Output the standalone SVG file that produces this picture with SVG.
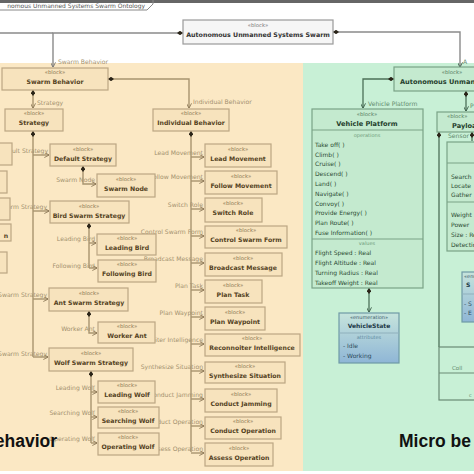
<svg xmlns="http://www.w3.org/2000/svg" width="474" height="474" viewBox="0 0 474 474">
<style>
text{font-family:"DejaVu Sans",Verdana,sans-serif}
.st{font-size:5.3px;fill:#8a7650;text-anchor:middle}
.nm{font-size:6.2px;font-weight:bold;fill:#54421f;text-anchor:middle}
.rl{font-size:6.1px;fill:#a3916f}
.rle{font-size:6.1px;fill:#a3916f;text-anchor:end}
.blk{fill:#f7e3bd;stroke:#bba683;stroke-width:1.2}
.cn{fill:none;stroke:#a8946f;stroke-width:1.4}
.gblk{fill:#c4eacf;stroke:#7aa286;stroke-width:1.2}
.gst{font-size:5.3px;fill:#557a60;text-anchor:middle}
.gnm{font-size:6.6px;font-weight:bold;fill:#24402c;text-anchor:middle}
.gtx{font-size:6px;fill:#2c4a34}
.gsm{font-size:5px;fill:#6f9a7a;text-anchor:middle}
.gcn{fill:none;stroke:#4c7058;stroke-width:1.3}
.grl{font-size:6.1px;fill:#5f8a6c}
.big{font-family:"Liberation Sans",Arial,sans-serif;font-size:17.5px;font-weight:bold;fill:#111}
</style>
<defs>
<marker id="dia" viewBox="0 0 8 6" refX="0" refY="3" markerWidth="6" markerHeight="4.5" markerUnits="userSpaceOnUse" orient="auto"><path d="M0,3 L4,0 L8,3 L4,6 z" fill="#2a2418"/></marker>
<marker id="arr" viewBox="0 0 8 8" refX="7.5" refY="4" markerWidth="5" markerHeight="5" markerUnits="userSpaceOnUse" orient="auto"><path d="M0,0 L8,4 L0,8" fill="none" stroke="#8a7656" stroke-width="1.4"/></marker>
<marker id="garr" viewBox="0 0 8 8" refX="7.5" refY="4" markerWidth="5" markerHeight="5" markerUnits="userSpaceOnUse" orient="auto"><path d="M0,0 L8,4 L0,8" fill="none" stroke="#3c5c48" stroke-width="1.4"/></marker>
<marker id="tarr" viewBox="0 0 8 8" refX="7.5" refY="4" markerWidth="5" markerHeight="5" markerUnits="userSpaceOnUse" orient="auto"><path d="M0,0 L8,4 L0,8" fill="none" stroke="#777" stroke-width="1.4"/></marker>
<linearGradient id="enumg" x1="0" y1="0" x2="0" y2="1"><stop offset="0" stop-color="#c6e4dc"/><stop offset="1" stop-color="#8fb6d6"/></linearGradient>
</defs>

<rect x="0" y="0" width="474" height="474" fill="#ffffff"/>
<rect x="0" y="63" width="303" height="408" fill="#fbe8c4"/>
<rect x="303" y="63" width="171" height="408" fill="#c8f0d6"/>

<!-- frame -->
<rect x="0" y="0" width="474" height="3" fill="#666"/>
<path d="M0,10 H147 L153,4 V0" fill="none" stroke="#888" stroke-width="1"/>
<text x="145" y="8" style="font-size:6px;fill:#555;text-anchor:end">nomous Unmanned Systems Swarm Ontology</text>

<!-- connectors -->
<g id="connectors">
<path d="M53,33 H0" fill="none" stroke="#8a8a8a" stroke-width="1.4"/>
<path d="M183,33 H53 V67" fill="none" stroke="#8a8a8a" stroke-width="1.4" marker-start="url(#dia)" marker-end="url(#tarr)"/>
<path d="M333,32 H460 V67" fill="none" stroke="#8a8a8a" stroke-width="1.4" marker-start="url(#dia)" marker-end="url(#garr)"/>
<path class="cn" d="M108,79 H189 V108" marker-start="url(#dia)" marker-end="url(#arr)"/>
<path class="cn" d="M33,90 V108" marker-start="url(#dia)" marker-end="url(#arr)"/>
<path class="cn" d="M33,131 V357" marker-start="url(#dia)"/>
<path class="cn" d="M33,155 H49" marker-end="url(#arr)"/>
<path class="cn" d="M33,211 H49" marker-end="url(#arr)"/>
<path class="cn" d="M33,299 H48" marker-end="url(#arr)"/>
<path class="cn" d="M33,357 H48" marker-end="url(#arr)"/>
<path class="cn" d="M83,166 V184 H96" marker-start="url(#dia)" marker-end="url(#arr)"/>
<path class="cn" d="M89,223 V268" marker-start="url(#dia)"/>
<path class="cn" d="M89,243 H96" marker-end="url(#arr)"/>
<path class="cn" d="M89,268 H97" marker-end="url(#arr)"/>
<path class="cn" d="M89,311 V333 H97" marker-start="url(#dia)" marker-end="url(#arr)"/>
<path class="cn" d="M91,371 V443" marker-start="url(#dia)"/>
<path class="cn" d="M91,392 H97" marker-end="url(#arr)"/>
<path class="cn" d="M91,417 H97" marker-end="url(#arr)"/>
<path class="cn" d="M91,443 H97" marker-end="url(#arr)"/>
<path class="cn" d="M191,131 V452" marker-start="url(#dia)"/>
<path class="cn" d="M191,157 H204" marker-end="url(#arr)"/>
<path class="cn" d="M191,181 H204" marker-end="url(#arr)"/>
<path class="cn" d="M191,209 H204" marker-end="url(#arr)"/>
<path class="cn" d="M191,236 H204" marker-end="url(#arr)"/>
<path class="cn" d="M191,263 H204" marker-end="url(#arr)"/>
<path class="cn" d="M191,290 H204" marker-end="url(#arr)"/>
<path class="cn" d="M191,317 H204" marker-end="url(#arr)"/>
<path class="cn" d="M191,344 H204" marker-end="url(#arr)"/>
<path class="cn" d="M191,371 H204" marker-end="url(#arr)"/>
<path class="cn" d="M191,399 H204" marker-end="url(#arr)"/>
<path class="cn" d="M191,426 H204" marker-end="url(#arr)"/>
<path class="cn" d="M191,453 H204" marker-end="url(#arr)"/>
<path class="gcn" d="M394,79 H363 V108" marker-start="url(#dia)" marker-end="url(#garr)"/>
<path class="gcn" d="M466,91 V111" marker-start="url(#dia)" marker-end="url(#garr)"/>
<path class="gcn" d="M369,288 V312" marker-start="url(#dia)" marker-end="url(#garr)"/>
<path class="gcn" d="M439,132 V347" marker-start="url(#dia)"/>
<path class="gcn" d="M472,132 V141" marker-start="url(#dia)"/>
<text class="rl" x="58" y="64">Swarm Behavior</text>
<text class="rl" x="193" y="104">Individual Behavior</text>
<text class="rl" x="37" y="105">Strategy</text>
<text class="rle" x="48" y="153">Default Strategy</text>
<text class="rle" x="95" y="182">Swarm Node</text>
<text class="rle" x="47" y="209">Bird Swarm Strategy</text>
<text class="rle" x="95" y="241">Leading Bird</text>
<text class="rle" x="95" y="268">Following Bird</text>
<text class="rle" x="47" y="297">Ant Swarm Strategy</text>
<text class="rle" x="95" y="331">Worker Ant</text>
<text class="rle" x="47" y="356">Wolf Swarm Strategy</text>
<text class="rle" x="95" y="390">Leading Wolf</text>
<text class="rle" x="95" y="415">Searching Wolf</text>
<text class="rle" x="95" y="441">Operating Wolf</text>
<text class="rle" x="203" y="155">Lead Movement</text>
<text class="rle" x="203" y="179">Follow Movement</text>
<text class="rle" x="203" y="207">Switch Role</text>
<text class="rle" x="203" y="234">Control Swarm Form</text>
<text class="rle" x="203" y="261">Broadcast Message</text>
<text class="rle" x="203" y="288">Plan Task</text>
<text class="rle" x="203" y="315">Plan Waypoint</text>
<text class="rle" x="203" y="342">Reconnoiter Intelligence</text>
<text class="rle" x="203" y="369">Synthesize Situation</text>
<text class="rle" x="203" y="397">Conduct Jamming</text>
<text class="rle" x="203" y="424">Conduct Operation</text>
<text class="rle" x="203" y="451">Assess Operation</text>
<text class="grl" x="368" y="106">Vehicle Platform</text>
<text class="grl" x="463" y="64">A</text>
<text class="grl" x="470" y="108">P</text>
<text class="grl" x="448" y="138">Sensor</text>
</g>

<!-- top block -->
<g id="autonomous-unmanned-systems-swarm">
<rect x="183" y="20" width="150" height="24" fill="#f6f6f6" stroke="#9a9a9a" stroke-width="1.2"/>
<text x="258" y="27" style="font-size:5.3px;fill:#777;text-anchor:middle">«block»</text>
<text x="258" y="37" style="font-size:6.3px;font-weight:bold;fill:#333;text-anchor:middle">Autonomous Unmanned Systems Swarm</text>
</g>

<!-- left edge partial blocks -->
<g id="left-partial-blocks">
<rect class="blk" x="-30" y="143" width="42" height="22"/>
<rect class="blk" x="-30" y="171" width="37" height="22"/>
<rect class="blk" x="-30" y="198" width="40" height="22"/>
<rect class="blk" x="-30" y="224" width="41" height="17"/>
<text class="nm" x="6" y="238">n</text>
<rect class="blk" x="-30" y="252" width="37" height="21"/>
</g>

<g id="swarm-behavior"><rect class="blk" x="2" y="68" width="106" height="22"/><text class="st" x="55" y="74">«block»</text><text class="nm" x="55" y="84">Swarm Behavior</text></g>
<g id="individual-behavior"><rect class="blk" x="153" y="109" width="76" height="22"/><text class="st" x="191" y="115">«block»</text><text class="nm" x="191" y="125">Individual Behavior</text></g>
<g id="strategy"><rect class="blk" x="5" y="109" width="58" height="22"/><text class="st" x="34" y="115">«block»</text><text class="nm" x="34" y="125">Strategy</text></g>
<g id="default-strategy"><rect class="blk" x="50" y="144" width="66" height="22"/><text class="st" x="83" y="151">«block»</text><text class="nm" x="83" y="161">Default Strategy</text></g>
<g id="swarm-node"><rect class="blk" x="97" y="174" width="58" height="23"/><text class="st" x="126" y="181">«block»</text><text class="nm" x="126" y="191">Swarm Node</text></g>
<g id="bird-swarm-strategy"><rect class="blk" x="50" y="201" width="79" height="22"/><text class="st" x="89" y="208">«block»</text><text class="nm" x="89" y="218">Bird Swarm Strategy</text></g>
<g id="leading-bird"><rect class="blk" x="97" y="234" width="59" height="21"/><text class="st" x="127" y="240">«block»</text><text class="nm" x="127" y="250">Leading Bird</text></g>
<g id="following-bird"><rect class="blk" x="98" y="260" width="58" height="22"/><text class="st" x="127" y="266">«block»</text><text class="nm" x="127" y="276">Following Bird</text></g>
<g id="ant-swarm-strategy"><rect class="blk" x="49" y="288" width="79" height="23"/><text class="st" x="89" y="295">«block»</text><text class="nm" x="89" y="305">Ant Swarm Strategy</text></g>
<g id="worker-ant"><rect class="blk" x="98" y="322" width="57" height="21"/><text class="st" x="127" y="328">«block»</text><text class="nm" x="127" y="338">Worker Ant</text></g>
<g id="wolf-swarm-strategy"><rect class="blk" x="49" y="348" width="84" height="23"/><text class="st" x="91" y="355">«block»</text><text class="nm" x="91" y="365">Wolf Swarm Strategy</text></g>
<g id="leading-wolf"><rect class="blk" x="98" y="381" width="57" height="22"/><text class="st" x="127" y="387">«block»</text><text class="nm" x="127" y="397">Leading Wolf</text></g>
<g id="searching-wolf"><rect class="blk" x="98" y="407" width="61" height="21"/><text class="st" x="128" y="413">«block»</text><text class="nm" x="128" y="423">Searching Wolf</text></g>
<g id="operating-wolf"><rect class="blk" x="98" y="433" width="61" height="22"/><text class="st" x="128" y="439">«block»</text><text class="nm" x="128" y="449">Operating Wolf</text></g>

<g id="lead-movement"><rect class="blk" x="205" y="144" width="66" height="23"/><text class="st" x="238" y="151">«block»</text><text class="nm" x="238" y="161">Lead Movement</text></g>
<g id="follow-movement"><rect class="blk" x="205" y="171" width="72" height="23"/><text class="st" x="241" y="178">«block»</text><text class="nm" x="241" y="188">Follow Movement</text></g>
<g id="switch-role"><rect class="blk" x="205" y="198" width="57" height="24"/><text class="st" x="233" y="205">«block»</text><text class="nm" x="233" y="215">Switch Role</text></g>
<g id="control-swarm-form"><rect class="blk" x="205" y="226" width="82" height="22"/><text class="st" x="246" y="232">«block»</text><text class="nm" x="246" y="242">Control Swarm Form</text></g>
<g id="broadcast-message"><rect class="blk" x="205" y="253" width="77" height="23"/><text class="st" x="243" y="260">«block»</text><text class="nm" x="243" y="270">Broadcast Message</text></g>
<g id="plan-task"><rect class="blk" x="205" y="280" width="57" height="23"/><text class="st" x="233" y="287">«block»</text><text class="nm" x="233" y="297">Plan Task</text></g>
<g id="plan-waypoint"><rect class="blk" x="205" y="307" width="60" height="23"/><text class="st" x="235" y="314">«block»</text><text class="nm" x="235" y="324">Plan Waypoint</text></g>
<g id="reconnoiter-intelligence"><rect class="blk" x="205" y="334" width="95" height="22"/><text class="st" x="252" y="340">«block»</text><text class="nm" x="252" y="350">Reconnoiter Intelligence</text></g>
<g id="synthesize-situation"><rect class="blk" x="205" y="362" width="80" height="21"/><text class="st" x="245" y="368">«block»</text><text class="nm" x="245" y="378">Synthesize Situation</text></g>
<g id="conduct-jamming"><rect class="blk" x="205" y="389" width="72" height="23"/><text class="st" x="241" y="396">«block»</text><text class="nm" x="241" y="406">Conduct Jamming</text></g>
<g id="conduct-operation"><rect class="blk" x="205" y="417" width="76" height="22"/><text class="st" x="243" y="423">«block»</text><text class="nm" x="243" y="433">Conduct Operation</text></g>
<g id="assess-operation"><rect class="blk" x="205" y="443" width="68" height="23"/><text class="st" x="239" y="450">«block»</text><text class="nm" x="239" y="460">Assess Operation</text></g>

<!-- green side -->
<g id="autonomous-unmanned-systems">
<rect class="gblk" x="394" y="67" width="110" height="24"/>
<text class="gst" x="452" y="74">«block»</text>
<text class="gnm" x="400" y="84" style="text-anchor:start">Autonomous Unmanned</text>
</g>

<g id="vehicle-platform">
<rect class="gblk" x="312" y="109" width="111" height="179"/>
<text class="gst" x="367" y="116">«block»</text>
<text class="gnm" x="367" y="126">Vehicle Platform</text>
<line x1="312" y1="130" x2="423" y2="130" stroke="#7aa286" stroke-width="1"/>
<text class="gsm" x="367" y="137">operations</text>
<text class="gtx" x="315" y="147">Take off( )</text>
<text class="gtx" x="315" y="157">Climb( )</text>
<text class="gtx" x="315" y="166">Cruise( )</text>
<text class="gtx" x="315" y="176">Descend( )</text>
<text class="gtx" x="315" y="186">Land( )</text>
<text class="gtx" x="315" y="196">Navigate( )</text>
<text class="gtx" x="315" y="206">Convoy( )</text>
<text class="gtx" x="315" y="215">Provide Energy( )</text>
<text class="gtx" x="315" y="225">Plan Route( )</text>
<text class="gtx" x="315" y="235">Fuse Information( )</text>
<line x1="312" y1="239" x2="423" y2="239" stroke="#7aa286" stroke-width="1"/>
<text class="gsm" x="367" y="245">values</text>
<text class="gtx" x="315" y="255">Flight Speed : Real</text>
<text class="gtx" x="315" y="265">Flight Altitude : Real</text>
<text class="gtx" x="315" y="275">Turning Radius : Real</text>
<text class="gtx" x="315" y="285">Takeoff Weight : Real</text>
</g>

<g id="vehicle-state">
<rect x="339" y="313" width="60" height="50" fill="url(#enumg)" stroke="#6f9aa6" stroke-width="1.2"/>
<line x1="339" y1="333" x2="399" y2="333" stroke="#8fb0bc" stroke-width="1"/>
<text x="369" y="319" style="font-size:5px;fill:#3c5c6a;text-anchor:middle">«enumeration»</text>
<text x="369" y="328" style="font-size:6px;font-weight:bold;fill:#1e3a48;text-anchor:middle">VehicleState</text>
<text x="369" y="339" style="font-size:5px;fill:#5f8aa0;text-anchor:middle">attributes</text>
<text x="343" y="348" style="font-size:6px;fill:#2c4a5c">- Idle</text>
<text x="343" y="358" style="font-size:6px;fill:#2c4a5c">- Working</text>
</g>

<g id="payload">
<rect class="gblk" x="437" y="112" width="60" height="20"/>
<text class="gst" x="447" y="118" style="text-anchor:start">«block»</text>
<text class="gnm" x="452" y="128" style="text-anchor:start">Payload</text>
</g>

<g id="sensor">
<rect class="gblk" x="447" y="142" width="50" height="109"/>
<line x1="447" y1="163" x2="497" y2="163" stroke="#7aa286" stroke-width="1"/>
<line x1="447" y1="202" x2="497" y2="202" stroke="#7aa286" stroke-width="1"/>
<text class="gtx" x="451" y="179">Search</text>
<text class="gtx" x="451" y="188">Locate</text>
<text class="gtx" x="451" y="197">Gather</text>
<text class="gtx" x="451" y="217">Weight</text>
<text class="gtx" x="451" y="227">Power</text>
<text class="gtx" x="451" y="237">Size : Real</text>
<text class="gtx" x="451" y="247">Detection</text>
</g>

<g id="sensor-enum">
<rect x="462" y="272" width="40" height="50" fill="url(#enumg)" stroke="#6f9aa6" stroke-width="1.2"/>
<line x1="462" y1="294" x2="502" y2="294" stroke="#8fb0bc" stroke-width="1"/>
<text x="464" y="278" style="font-size:5px;fill:#3c5c6a">«enumeration»</text>
<text x="466" y="287" style="font-size:6px;font-weight:bold;fill:#1e3a48">S</text>
<text x="464" y="306" style="font-size:6px;fill:#2c4a5c">- S</text>
<text x="464" y="315" style="font-size:6px;fill:#2c4a5c">- E</text>
</g>

<g id="lower-block">
<rect x="439" y="347" width="60" height="53" fill="none" stroke="#6a8a74" stroke-width="1.2"/>
<line x1="439" y1="373" x2="499" y2="373" stroke="#6a8a74" stroke-width="1"/>
<text x="452" y="370" style="font-size:5.5px;fill:#5f8a6c">Coll</text>
<text x="469" y="397" style="font-size:5px;fill:#5f8a6c">c</text>
</g>

<text class="big" x="57" y="447" text-anchor="end">ehavior</text>
<text class="big" x="399" y="447">Micro be</text>
</svg>
